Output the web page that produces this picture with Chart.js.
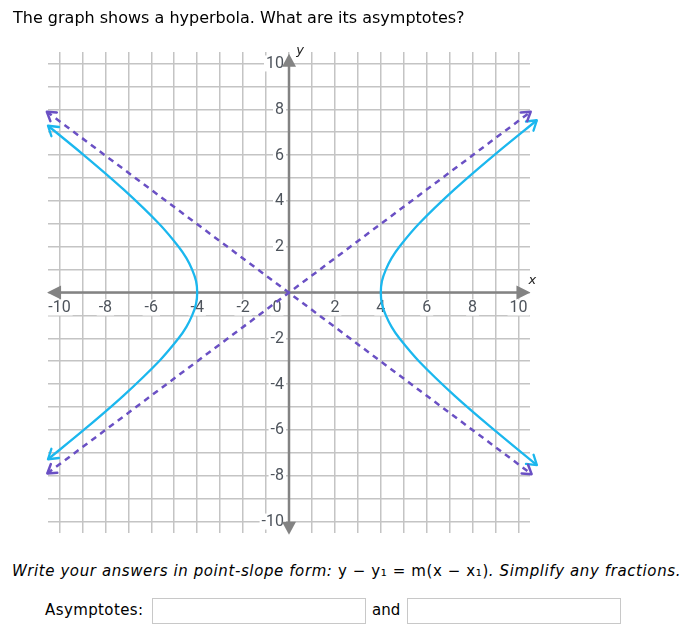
<!DOCTYPE html>
<html>
<head>
<meta charset="utf-8">
<script src="https://cdn.jsdelivr.net/npm/chart.js@4.4.1/dist/chart.umd.min.js"></script>
<style>
  html, body { margin:0; padding:0; background:#fff; }
  body { width:695px; height:639px; position:relative; overflow:hidden; font-family:"DejaVu Sans", Verdana, sans-serif; color:#000; }
  #wrap { position:absolute; left:0; top:0; width:695px; height:550px; }
  #title { position:absolute; left:13px; top:8px; font-size:16px; line-height:20px; white-space:nowrap; }
  #instr { position:absolute; left:12px; top:560px; font-size:15px; line-height:22px; font-style:italic; white-space:nowrap; letter-spacing:0.6px; }
  #instr .n { font-style:normal; }
  .box { position:absolute; top:598px; height:24px; border:1px solid #c8c8c8; background:#fff; }
</style>
</head>
<body>
<div id="wrap"><canvas id="c" width="695" height="550"></canvas></div>
<div id="title">The graph shows a hyperbola. What are its asymptotes?</div>
<div id="instr">Write your answers in point-slope form: <span class="n">y − y₁ = m(x − x₁)</span>. Simplify any fractions.</div>
<div style="position:absolute;left:45px;top:599px;font-size:15px;line-height:22px;letter-spacing:0.4px;">Asymptotes:</div>
<div class="box" style="left:152px;width:212px;"></div>
<div style="position:absolute;left:372px;top:599px;font-size:15px;line-height:22px;">and</div>
<div class="box" style="left:407px;width:212px;"></div>
<script>
// ---- data ----
const rightBranchX = [10.8, 8.94, 7.21, 5.66, 4.81, 4.47, 4.22, 4.05, 4, 4.05, 4.22, 4.47, 4.81, 5.66, 7.21, 8.94, 10.8];
const rightBranchY = [7.52, 6, 4.5, 3, 2, 1.5, 1, 0.5, 0, -0.5, -1, -1.5, -2, -3, -4.5, -6, -7.54];
const leftBranchX  = [-10.5, -8.94, -7.21, -5.66, -4.81, -4.47, -4.22, -4.05, -4, -4.05, -4.22, -4.47, -4.81, -5.66, -7.21, -8.94, -10.5];
const leftBranchY  = [7.28, 6, 4.5, 3, 2, 1.5, 1, 0.5, 0, -0.5, -1, -1.5, -2, -3, -4.5, -6, -7.28];
const asym1X = [-10.53, 10.53];
const asym1Y = [-7.9, 7.89];
const asym2X = [-10.55, 10.57];
const asym2Y = [7.89, -7.93];
const xTickLabels = [-10, -8, -6, -4, -2, 2, 4, 6, 8, 10];
const yTickLabels = [10, 8, 6, 4, 2, -2, -4, -6, -8, -10];
const gridValues = [-10,-9,-8,-7,-6,-5,-4,-3,-2,-1,0,1,2,3,4,5,6,7,8,9,10];

const toPts = (xs, ys) => xs.map((x, i) => ({x, y: ys[i]}));

const CURVE = '#1bb7ee';
const DASH = '#6a50c4';
const AXIS = '#838383';
const LABEL = '#4e545c';

function chevron(ctx, x1, y1, x2, y2, len, color, w) {
  const a = Math.atan2(y2 - y1, x2 - x1);
  const sp = Math.PI / 5.5;
  ctx.save();
  ctx.strokeStyle = color; ctx.lineWidth = w; ctx.setLineDash([]);
  ctx.lineCap = 'round'; ctx.lineJoin = 'round';
  ctx.beginPath();
  ctx.moveTo(x2 - len * Math.cos(a - sp), y2 - len * Math.sin(a - sp));
  ctx.lineTo(x2, y2);
  ctx.lineTo(x2 - len * Math.cos(a + sp), y2 - len * Math.sin(a + sp));
  ctx.stroke();
  ctx.restore();
}
function tri(ctx, tx, ty, dx, dy, len, hw, color) {
  ctx.save();
  ctx.fillStyle = color;
  ctx.beginPath();
  ctx.moveTo(tx, ty);
  ctx.lineTo(tx - dx * len - dy * hw, ty - dy * len + dx * hw);
  ctx.lineTo(tx - dx * len + dy * hw, ty - dy * len - dx * hw);
  ctx.closePath();
  ctx.fill();
  ctx.restore();
}

const decor = {
  id: 'decor',
  beforeDatasetsDraw(chart) {
    const ctx = chart.ctx;
    const xs = chart.scales.x, ys = chart.scales.y;
    const ox = xs.getPixelForValue(0), oy = ys.getPixelForValue(0);
    ctx.save();
    ctx.font = '16px Roboto, sans-serif';
    ctx.textBaseline = 'middle';
    const lab = (t, x, y, align) => {
      ctx.textAlign = align;
      const w = ctx.measureText(t).width;
      let lx = align === 'center' ? x - w / 2 : (align === 'right' ? x - w : x);
      ctx.fillStyle = '#fff';
      ctx.fillRect(lx - 2, y - 8, w + 4, 16);
      ctx.fillStyle = LABEL;
      ctx.fillText(t, x, y + 0.5);
    };
    xTickLabels.forEach(v => lab(String(v), xs.getPixelForValue(v), oy + 15, 'center'));
    lab('0', ox - 12, oy + 15, 'center');
    yTickLabels.forEach(v => lab(String(v), ox - 5, ys.getPixelForValue(v), 'right'));
    // axes
    const xl = xs.getPixelForValue(-10.54), xr = xs.getPixelForValue(10.52);
    const yt = ys.getPixelForValue(10.42), yb = ys.getPixelForValue(-10.58);
    ctx.strokeStyle = AXIS; ctx.lineWidth = 2.5;
    ctx.beginPath();
    ctx.moveTo(xl + 6, oy); ctx.lineTo(xr - 6, oy);
    ctx.moveTo(ox, yt + 6); ctx.lineTo(ox, yb - 6);
    ctx.stroke();
    tri(ctx, xl, oy, -1, 0, 14, 7, AXIS);
    tri(ctx, xr, oy, 1, 0, 14, 7, AXIS);
    tri(ctx, ox, yt, 0, -1, 13, 7, AXIS);
    tri(ctx, ox, yb, 0, 1, 13, 7, AXIS);
    ctx.fillStyle = '#222';
    ctx.font = 'italic 13px "DejaVu Sans", sans-serif';
    ctx.textAlign = 'center';
    ctx.fillText('x', xr + 2, oy - 12);
    ctx.fillText('y', ox + 11, yt - 3);
    ctx.restore();
  },
  afterDatasetsDraw(chart) {
    const ctx = chart.ctx;
    chart.data.datasets.forEach((ds, i) => {
      const meta = chart.getDatasetMeta(i);
      const pts = meta.data;
      const n = pts.length;
      const color = ds.borderColor;
      const len = ds.borderDash ? 10 : 11;
      const w = ds.borderDash ? 2.5 : 2.3;
      let a = pts[0], b = pts[1];
      if (ds.borderDash) {
        chevron(ctx, b.x, b.y, a.x, a.y, len, color, w);
        a = pts[n - 1]; b = pts[n - 2];
        chevron(ctx, b.x, b.y, a.x, a.y, len, color, w);
      } else {
        const c0 = a.cp2x !== undefined ? {x: a.cp2x, y: a.cp2y} : b;
        chevron(ctx, c0.x, c0.y, a.x, a.y, len, color, w);
        a = pts[n - 1]; b = pts[n - 2];
        const c1 = a.cp1x !== undefined ? {x: a.cp1x, y: a.cp1y} : b;
        chevron(ctx, c1.x, c1.y, a.x, a.y, len, color, w);
      }
    });
  }
};

const gridOpts = { color: '#c4c4c4', lineWidth: 1.5, drawTicks: false };
new Chart(document.getElementById('c'), {
  type: 'scatter',
  data: {
    datasets: [
      { data: toPts(rightBranchX, rightBranchY), borderColor: CURVE, borderWidth: 2.3, showLine: true, pointRadius: 0, tension: 0.35, clip: false },
      { data: toPts(leftBranchX, leftBranchY), borderColor: CURVE, borderWidth: 2.3, showLine: true, pointRadius: 0, tension: 0.35, clip: false },
      { data: toPts(asym1X, asym1Y), borderColor: DASH, borderWidth: 2.5, borderDash: [6, 5], showLine: true, pointRadius: 0, clip: false },
      { data: toPts(asym2X, asym2Y), borderColor: DASH, borderWidth: 2.5, borderDash: [6, 5], showLine: true, pointRadius: 0, clip: false }
    ]
  },
  options: {
    responsive: false,
    animation: false,
    events: [],
    layout: { padding: { left: 48, right: 165, top: 52, bottom: 17 } },
    plugins: { legend: { display: false }, tooltip: { enabled: false } },
    scales: {
      x: { type: 'linear', min: -10.5, max: 10.5, grid: gridOpts, border: { display: false }, ticks: { display: false },
           afterBuildTicks: s => { s.ticks = gridValues.map(v => ({value: v})); } },
      y: { type: 'linear', min: -10.5, max: 10.5, grid: gridOpts, border: { display: false }, ticks: { display: false },
           afterBuildTicks: s => { s.ticks = gridValues.map(v => ({value: v})); } }
    }
  },
  plugins: [decor]
});
</script>
</body>
</html>
